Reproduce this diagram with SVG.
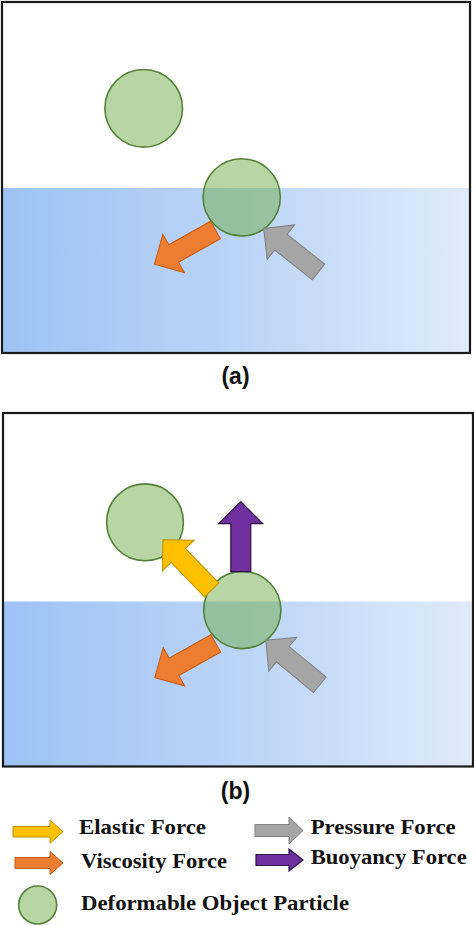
<svg xmlns="http://www.w3.org/2000/svg" width="474" height="926" viewBox="0 0 474 926">
<style>
.frame{fill:none;stroke:#1a1a1a;stroke-width:2.2}
.particle{fill:#70AD47;fill-opacity:0.5;stroke:#538135;stroke-width:1.6}
.orange{fill:#ED7D31;stroke:#C55A11;stroke-width:1}
.gray{fill:#A5A5A5;stroke:#7F7F7F;stroke-width:1}
.yellow{fill:#FFC000;stroke:#BF9000;stroke-width:1}
.purple{fill:#7030A0;stroke:#2E1245;stroke-width:1.2}
.cap{font-family:"Liberation Sans",Arial,sans-serif;font-weight:bold;font-size:23px;fill:#111;text-anchor:middle}
.leg{font-family:"Liberation Serif","Times New Roman",serif;font-weight:bold;font-size:21.5px;fill:#111}
</style>
<defs>
<linearGradient id="water" x1="0" y1="0" x2="1" y2="0">
<stop offset="0" stop-color="#9DC3F4"/>
<stop offset="0.5" stop-color="#BBD4F7"/>
<stop offset="1" stop-color="#E0EBFA"/>
</linearGradient>
<path id="arr" d="M0,-10 H48 V-22 L70,0 L48,22 V10 H0 Z"/>
</defs>

<g id="panel-a">
<rect x="2" y="188" width="468" height="165" fill="url(#water)"/>
<rect class="frame" x="2" y="2" width="468" height="351"/>
</g>
<g id="particle-a1"><circle class="particle" cx="143.7" cy="108.3" r="38.8"/></g>
<g id="particle-a2"><circle class="particle" cx="241.7" cy="197.3" r="38.6"/></g>
<text id="label-a" class="cap" x="235.5" y="384">(a)</text>

<g id="panel-b">
<rect x="3" y="601.5" width="470" height="165" fill="url(#water)"/>
<rect class="frame" x="3" y="413" width="470" height="353.5"/>
</g>
<g id="particle-b1"><circle class="particle" cx="145" cy="522.3" r="38.4"/></g>
<g id="particle-b2"><circle class="particle" cx="242.3" cy="610" r="38.6"/></g>
<text id="label-b" class="cap" x="235.5" y="799">(b)</text>

<g id="connectors">
<use href="#arr" class="orange" transform="translate(215.5,230) rotate(150.7)"/>
<use href="#arr" class="gray" transform="translate(318.5,272) rotate(218.4)"/>
<use href="#arr" class="orange" transform="translate(215.8,643.3) rotate(150.7)"/>
<use href="#arr" class="gray" transform="translate(319.8,684.8) rotate(219.5)"/>
<use href="#arr" class="yellow" transform="translate(211.7,590) rotate(225.9)"/>
<use href="#arr" class="purple" transform="translate(240.8,571.7) rotate(-90)"/>
</g>

<g id="legend">
<g id="legend-elastic">
<path class="yellow" d="M13,826.5 H50 V820 L63,831.7 L50,843.3 V837 H13 Z"/>
<text class="leg" x="79" y="834.3" textLength="127" lengthAdjust="spacingAndGlyphs">Elastic Force</text>
</g>
<g id="legend-viscosity">
<path class="orange" d="M15,857.5 H50 V851.5 L63,863 L50,874.5 V868.5 H15 Z"/>
<text class="leg" x="81" y="868.3" textLength="146" lengthAdjust="spacingAndGlyphs">Viscosity Force</text>
</g>
<g id="legend-pressure">
<path class="gray" d="M255,824.5 H289 V817 L303,830.5 L289,844 V836.5 H255 Z"/>
<text class="leg" x="310.7" y="834.3" textLength="145" lengthAdjust="spacingAndGlyphs">Pressure Force</text>
</g>
<g id="legend-buoyancy">
<path class="purple" d="M256,854.5 H289 V849 L303,860 L289,871 V865.5 H256 Z"/>
<text class="leg" x="310.7" y="863.5" textLength="156" lengthAdjust="spacingAndGlyphs">Buoyancy Force</text>
</g>
<g id="legend-particle">
<circle class="particle" cx="37.7" cy="905" r="19"/>
<text class="leg" x="81" y="910" textLength="268" lengthAdjust="spacingAndGlyphs">Deformable Object Particle</text>
</g>
</g>
</svg>
